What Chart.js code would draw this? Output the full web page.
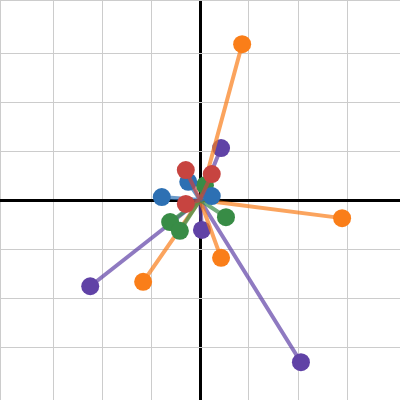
<!DOCTYPE html>
<html><head><script src="https://cdn.jsdelivr.net/npm/chart.js@4"></script>
<style>html,body{margin:0;padding:0;background:#fff}#w{width:400px;height:400px}</style></head>
<body><div id="w"><canvas id="c"></canvas></div>
<script>
const orangeX=[0.86,2.9,-1.16,0.43], orangeY=[3.18,-0.37,-1.67,-1.18];
const purpleX=[0.43,-2.24,2.06,0.04], purpleY=[1.06,-1.76,-3.31,-0.61];
const redX=[-0.29,0.24,-0.29], redY=[0.61,0.53,-0.08];
const blueX=[-0.78,-0.24,0.24], blueY=[0.06,0.37,0.08];
const greenX=[-0.61,-0.41,0.53,0.1], greenY=[-0.45,-0.63,-0.35,0.3];
function ds(xs,ys,color,line){
  const d=[];xs.forEach((x,i)=>{d.push({x:0,y:0});d.push({x:x,y:ys[i]});d.push({x:NaN,y:NaN});});
  return {data:d,showLine:true,spanGaps:false,borderColor:line,borderWidth:4,backgroundColor:color,
    pointRadius:c=>c.dataIndex%3===1?9:0,pointHoverRadius:9,pointBorderWidth:0};
}
const R=200/49;
new Chart(document.getElementById('c'),{type:'scatter',
 data:{datasets:[ds(redX,redY,'#c74440','rgba(199,68,64,0.7)'),ds(blueX,blueY,'#2d70b3','rgba(45,112,179,0.7)'),
  ds(greenX,greenY,'#388c46','rgba(56,140,70,0.7)'),ds(orangeX,orangeY,'#fa7e19','rgba(250,126,25,0.7)'),
  ds(purpleX,purpleY,'#6042a6','rgba(96,66,166,0.7)')]},
 options:{responsive:true,maintainAspectRatio:false,animation:false,layout:{padding:0},
  plugins:{legend:{display:false},tooltip:{enabled:false}},
  scales:{x:{type:'linear',min:-R,max:R,border:{display:false},ticks:{display:false,stepSize:1},
     grid:{color:c=>c.tick.value===0?'#000':'#ccc',lineWidth:c=>c.tick.value===0?3:1,drawTicks:false}},
   y:{type:'linear',min:-R,max:R,border:{display:false},ticks:{display:false,stepSize:1},
     grid:{color:c=>c.tick.value===0?'#000':'#ccc',lineWidth:c=>c.tick.value===0?3:1,drawTicks:false}}}}});
</script></body></html>
